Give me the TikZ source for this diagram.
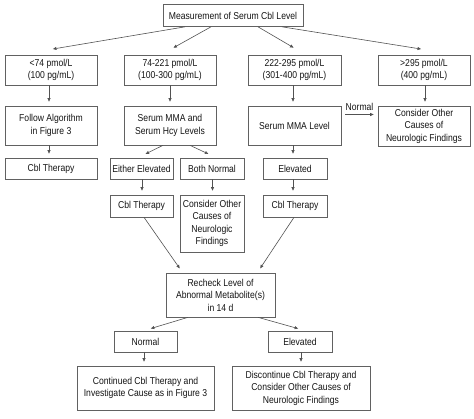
\documentclass[tikz,border=0pt]{standalone}
\usepackage{fontspec}
\setmainfont{Liberation Sans}[FakeStretch=0.86]
\usetikzlibrary{arrows.meta}
\begin{document}
\begin{tikzpicture}[x=1pt,y=-1pt,
  every node/.style={font=\fontsize{10}{12.5}\selectfont, text=black!92},
  box/.style={draw=black!62, line width=0.65pt, align=center, inner sep=0pt, minimum height=#1},
  box/.default=22pt,
  arr/.style={draw=black!68, line width=0.6pt, -{Triangle[length=3.5pt,width=3pt]}, shorten >=4pt},
  lbl/.style={inner sep=0pt}]
\useasboundingbox (0,0) rectangle (474,419);
% top
\node[box, minimum width=140pt] (top) at (233,15.5) {Measurement of Serum Cbl Level};
% row 2
\node[box=30pt, minimum width=92pt] (a1) at (51,70) {<74 pmol/L\\(100 pg/mL)};
\node[box=30pt, minimum width=92pt] (a2) at (170,70) {74-221 pmol/L\\(100-300 pg/mL)};
\node[box=30pt, minimum width=93pt] (a3) at (294.5,70) {222-295 pmol/L\\(301-400 pg/mL)};
\node[box=30pt, minimum width=92pt] (a4) at (424,70) {>295 pmol/L\\(400 pg/mL)};
% row 3
\node[box=39pt, minimum width=92pt] (b1) at (51,125.5) {Follow Algorithm\\in Figure 3};
\node[box=39pt, minimum width=92pt] (b2) at (170,125.5) {Serum MMA and\\Serum Hcy Levels};
\node[box=39pt, minimum width=93pt] (b3) at (294.5,125.5) {Serum MMA Level};
\node[box=40pt, minimum width=92pt] (b4) at (424,126) {Consider Other\\Causes of\\Neurologic Findings};
% row 4
\node[box=21pt, minimum width=92pt] (c1) at (51,168.5) {Cbl Therapy};
\node[box=21pt, minimum width=63pt] (c2) at (141.5,168.5) {Either Elevated};
\node[box=21pt, minimum width=64pt] (c3) at (212,168.5) {Both Normal};
\node[box=21pt, minimum width=64pt] (c4) at (295,168.5) {Elevated};
% row 5
\node[box=22pt, minimum width=63pt] (d2) at (141.5,206) {Cbl Therapy};
\node[box=57pt, minimum width=64pt] (d3) at (212,223.5) {Consider Other\\Causes of\\Neurologic\\Findings};
\node[box=22pt, minimum width=64pt] (d4) at (295,206) {Cbl Therapy};
% recheck
\node[box=44pt, minimum width=109pt] (r) at (220.5,295) {Recheck Level of\\Abnormal Metabolite(s)\\in 14 d};
\node[box=21pt, minimum width=63pt] (n) at (145.5,341.5) {Normal};
\node[box=21pt, minimum width=64pt] (e) at (300,341.5) {Elevated};
\node[box=44pt, minimum width=137pt] (f1) at (145.5,388) {Continued Cbl Therapy and\\Investigate Cause as in Figure 3};
\node[box=44pt, minimum width=138pt] (f2) at (301,388) {Discontinue Cbl Therapy and\\Consider Other Causes of\\Neurologic Findings};
% arrows from top
\draw[arr] ([xshift=-48pt]top.south) -- ([xshift=-2pt,yshift=5pt]a1.north);
\draw[arr] ([xshift=-22pt]top.south) -- ([yshift=5pt]a2.north);
\draw[arr] ([xshift=25pt]top.south) -- ([xshift=2.5pt,yshift=5pt]a3.north);
\draw[arr] ([xshift=49pt]top.south) -- ([xshift=1pt,yshift=5pt]a4.north);
% row2 -> row3
\draw[arr] ([xshift=-2pt]a1.south) -- ([xshift=-2pt]b1.north);
\draw[arr] (a2.south) -- (b2.north);
\draw[arr] ([xshift=-1.5pt]a3.south) -- ([xshift=-1.5pt]b3.north);
\draw[arr] ([xshift=1pt]a4.south) -- ([xshift=1pt]b4.north);
% normal
\draw[arr, shorten <=4pt] (b3.east |- 0,114.5) -- (b4.west |- 0,114.5) node[lbl, midway, above=4pt] {Normal};
% row3 -> row4
\draw[arr] ([xshift=-2pt]b1.south) -- ([xshift=-2pt]c1.north);
\draw[arr] ([xshift=-7pt]b2.south) -- ([xshift=0.5pt,yshift=2pt]c2.north);
\draw[arr] ([xshift=20pt]b2.south) -- ([xshift=0pt,yshift=2pt]c3.north);
\draw[arr] ([xshift=-1.5pt]b3.south) -- ([xshift=-2pt]c4.north);
% row4 -> row5
\draw[arr] ([xshift=0.5pt]c2.south) -- ([xshift=0.5pt]d2.north);
\draw[arr] ([xshift=0.5pt]c3.south) -- ([xshift=0.5pt]d3.north);
\draw[arr] ([xshift=-2pt]c4.south) -- ([xshift=-2pt]d4.north);
% to recheck
\draw[arr] ([xshift=2.5pt]d2.south) -- ([xshift=-38.5pt,yshift=1pt]r.north);
\draw[arr] ([xshift=-1pt]d4.south) -- ([xshift=37.5pt,yshift=1pt]r.north);
% recheck -> normal/elevated
\draw[arr] ([xshift=-32.5pt]r.south) -- ([xshift=1.5pt,yshift=1pt]n.north);
\draw[arr] ([xshift=37.5pt]r.south) -- ([xshift=2pt,yshift=1pt]e.north);
% -> final
\draw[arr] ([xshift=-1.5pt]n.south) -- ([xshift=-1.5pt]f1.north);
\draw[arr] ([xshift=1pt]e.south) -- ([xshift=0pt]f2.north);
\end{tikzpicture}
\end{document}
